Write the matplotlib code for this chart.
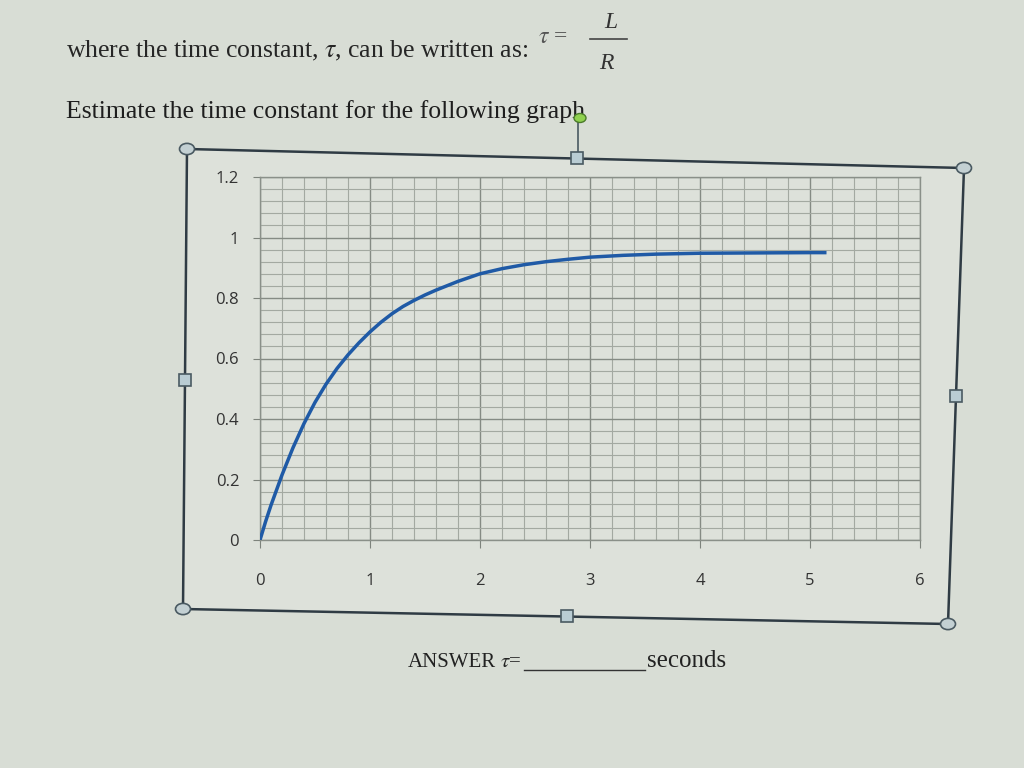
import numpy as np
import matplotlib
matplotlib.use('Agg')
import matplotlib.pyplot as plt
from matplotlib.patches import Polygon, Circle, Rectangle
from matplotlib.lines import Line2D

# values (time in s, response)
t = [0, 0.05, 0.1, 0.2, 0.3, 0.4, 0.5, 0.6, 0.7, 0.8, 0.9, 1.0, 1.1, 1.2, 1.3,
     1.4, 1.5, 1.6, 1.8, 2.0, 2.2, 2.4, 2.6, 2.8, 3.0, 3.3, 3.6, 4.0, 4.5, 5.0, 5.15]
v = [0, 0.06, 0.115, 0.215, 0.305, 0.385, 0.455, 0.515, 0.567, 0.612, 0.652, 0.688,
     0.72, 0.748, 0.772, 0.792, 0.81, 0.826, 0.855, 0.88, 0.897, 0.91, 0.92, 0.928,
     0.935, 0.941, 0.945, 0.948, 0.949, 0.95, 0.95]
xticks = [0, 1, 2, 3, 4, 5, 6]
yticks = [0, 0.2, 0.4, 0.6, 0.8, 1.0, 1.2]
ylabels = ['0', '0.2', '0.4', '0.6', '0.8', '1', '1.2']

W, H = 1024, 768
bg = '#d8ddd5'
fig = plt.figure(figsize=(W / 100, H / 100), dpi=100, facecolor=bg)


def px(x, y):
    return x / W, 1 - y / H


# chart frame (slightly skewed like the photo)
corners = [(187, 149), (964, 168), (948, 624), (183, 609)]
frame = Polygon([px(*c) for c in corners], closed=True, fill=True,
                facecolor='#dde1da', edgecolor='#2f3b44', lw=1.8,
                transform=fig.transFigure, zorder=0)
fig.add_artist(frame)

ax = fig.add_axes([260 / W, 1 - 540 / H, 660 / W, 363 / H])
ax.set_facecolor('#dde1da')
ax.plot(t, v, color='#1f5aa6', lw=2.5, solid_capstyle='butt', zorder=3)
ax.set_xlim(0, 6)
ax.set_ylim(0, 1.2)
ax.set_xticks(xticks)
ax.set_yticks(yticks)
ax.set_yticklabels(ylabels)
ax.set_xticks(np.arange(0, 6.01, 0.2), minor=True)
ax.set_yticks(np.arange(0, 1.201, 0.04), minor=True)
ax.grid(which='major', color='#858b84', lw=1.0)
ax.grid(which='minor', color='#a3a9a1', lw=0.8)
ax.set_axisbelow(True)
for s in ax.spines.values():
    s.set_color('#8a9089')
    s.set_linewidth(1.0)
ax.tick_params(axis='x', which='major', length=6, color='#7d837c', pad=18,
               labelsize=12, labelcolor='#333333')
ax.tick_params(axis='y', which='major', length=5, color='#7d837c', pad=10,
               labelsize=12, labelcolor='#333333')
ax.tick_params(which='minor', length=0)
for lab in ax.get_xticklabels() + ax.get_yticklabels():
    lab.set_fontfamily('Open Sans')

# selection handles
for (x, y) in corners:
    fig.add_artist(Circle(px(x, y), 7.5 / W, transform=fig.transFigure,
                          facecolor='#c3d0d3', edgecolor='#4a5a62', lw=1.2, zorder=5))
for (x, y) in [(577, 158), (185, 380), (956, 396), (567, 616)]:
    fig.add_artist(Rectangle(px(x - 6, y + 6), 12 / W, 12 / H, transform=fig.transFigure,
                             facecolor='#b9ccd3', edgecolor='#4a5a62', lw=1.2, zorder=5))
fig.add_artist(Line2D([px(578, 122)[0], px(578, 152)[0]], [px(578, 122)[1], px(578, 152)[1]],
                      transform=fig.transFigure, color='#4a5a62', lw=1.2, zorder=4))
fig.add_artist(Circle(px(580, 118), 6 / W, transform=fig.transFigure,
                      facecolor='#8fd14f', edgecolor='#4a7a2a', lw=1.0, zorder=6))

# text
serif = 'Liberation Serif'
fig.text(*px(66, 57), 'where the time constant, $\\tau$, can be written as:', family=serif,
         fontsize=18.5, color='#262626', va='baseline', math_fontfamily='stix')
fig.text(*px(538, 43), '$\\tau$ =', family=serif, fontsize=17, color='#555555',
         va='baseline', math_fontfamily='stix')
fig.text(*px(611, 28), 'L', family=serif, fontsize=17, style='italic', color='#333333',
         va='baseline', ha='center')
fig.add_artist(Line2D([px(590, 39)[0], px(627, 39)[0]], [px(590, 39)[1], px(627, 39)[1]],
                      transform=fig.transFigure, color='#444444', lw=1.2))
fig.text(*px(606, 69), 'R', family=serif, fontsize=17, style='italic', color='#333333',
         va='baseline', ha='center')
fig.text(*px(66, 118), 'Estimate the time constant for the following graph', family=serif,
         fontsize=18.5, color='#1e1e1e', va='baseline')

fig.text(*px(408, 667), 'ANSWER', family=serif, fontsize=15, color='#222222',
         va='baseline')
fig.text(*px(500, 667), '$\\tau$=', family=serif, fontsize=15, color='#222222',
         va='baseline', math_fontfamily='stix')
fig.add_artist(Line2D([px(524, 670)[0], px(645, 670)[0]], [px(524, 670)[1], px(645, 670)[1]],
                      transform=fig.transFigure, color='#333333', lw=1.0))
fig.text(*px(647, 667), 'seconds', family=serif, fontsize=18, color='#222222',
         va='baseline')

fig.savefig('out.png', dpi=100, facecolor=bg)
